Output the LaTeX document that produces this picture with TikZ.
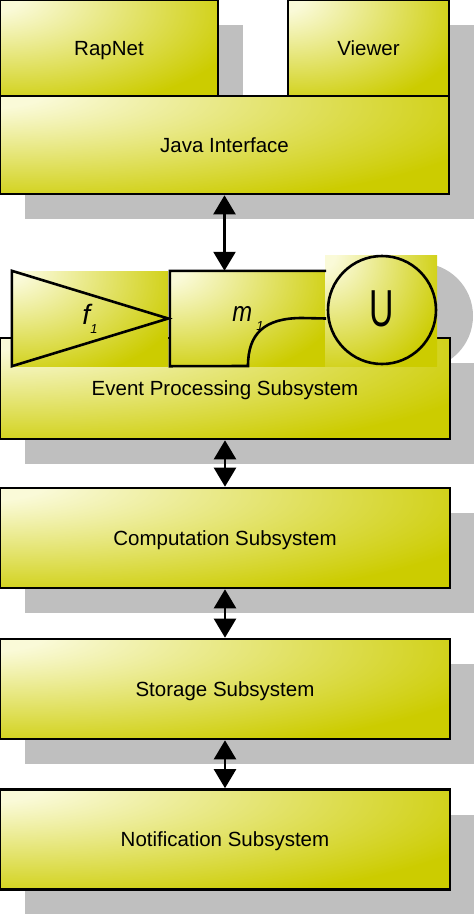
\documentclass[tikz,border=0pt]{standalone}
\usepackage{fontspec}
\setmainfont{Liberation Sans}
\usepackage{tikz}
\usetikzlibrary{arrows.meta,shadows}
\usepackage{xcolor}

\definecolor{boxyellow}{RGB}{204,204,0}
\definecolor{boxlight}{RGB}{250,250,216}
\definecolor{shadowgray}{RGB}{191,191,191}
\pgfdeclareradialshading{boxglow}{\pgfpoint{-30bp}{28bp}}{color(0bp)=(boxlight); color(8bp)=(boxlight); color(50bp)=(boxyellow); color(130bp)=(boxyellow)}

\tikzset{
	subsys/.style={draw, line width=2.6pt, shade, shading=boxglow, inner sep=0pt,
		minimum width=450pt, minimum height=100pt, text depth=0pt,
		font=\fontsize{20.5}{24}\selectfont,
		drop shadow={shadow xshift=25pt, shadow yshift=-25pt, fill=shadowgray, opacity=1}},
	glowfill/.style={shade, shading=boxglow, inner sep=0pt},
	biarrow/.style={{Triangle[width=22pt,length=19pt]}-{Triangle[width=22pt,length=19pt]}, line width=2.4pt},
}

\begin{document}
\begin{tikzpicture}[x=1pt,y=-1pt]
		\useasboundingbox (0,0) rectangle (474,914);
		\fill [shadowgray] (420,316) circle (53pt);
		
		\node [subsys, minimum width=218pt, minimum height=96pt] (rapnet) at (109,48) {RapNet};
		\node [subsys, minimum width=161pt, minimum height=96pt] (viewer) at (368.5,48) {Viewer};
		\node [subsys, minimum width=449pt, minimum height=98pt] (java) at (224.5,145) {Java Interface};
		\node [subsys, minimum height=101pt] (event) at (225,388.5) {Event Processing Subsystem};
		\node [subsys] (comp) at (225,538) {Computation Subsystem};
		\node [subsys] (store) at (225,689) {Storage Subsystem};
		\node [subsys] (notify) at (225,839.5) {Notification Subsystem};
		
		\node [glowfill, minimum width=156pt, minimum height=95pt] (f1) at (90,318.5)
			{\fontsize{28}{30}\selectfont\itshape f\raisebox{-9pt}{\fontsize{13}{13}\selectfont 1}};
		\node [glowfill, minimum width=156pt, minimum height=95pt] (m1) at (248,318.5)
			{\raisebox{-4pt}{\fontsize{28}{30}\selectfont\itshape\scalebox{0.85}[1]{m}\kern4pt\raisebox{-9pt}{\fontsize{13}{13}\selectfont 1}}};
		\node [glowfill, minimum width=112pt, minimum height=111pt] (utilbox) at (381,310.5) {};
		\node [glowfill, circle, draw, line width=2.6pt, minimum size=108pt] (util) at (382,310)
			{\raisebox{3pt}{\fontsize{52}{52}\selectfont\scalebox{0.65}[1]{U}}};
		
		\draw [line width=2.6pt] (f1.north west) -- (f1.east) -- (f1.south west) -- cycle;
		\coordinate (bend) at (248,366);
		\draw [line width=2.6pt] (m1.north east) -- (m1.north west) -- (m1.south west) -- (bend)
			.. controls (248,334) and (264,318) .. (302,318) -- (m1.east);
		
		\draw [biarrow] (java.south) -- (java.south |- m1.north);
		\draw [biarrow] (event) -- (comp);
		\draw [biarrow] (comp) -- (store);
		\draw [biarrow] (store) -- (notify);
\end{tikzpicture}
\end{document}
